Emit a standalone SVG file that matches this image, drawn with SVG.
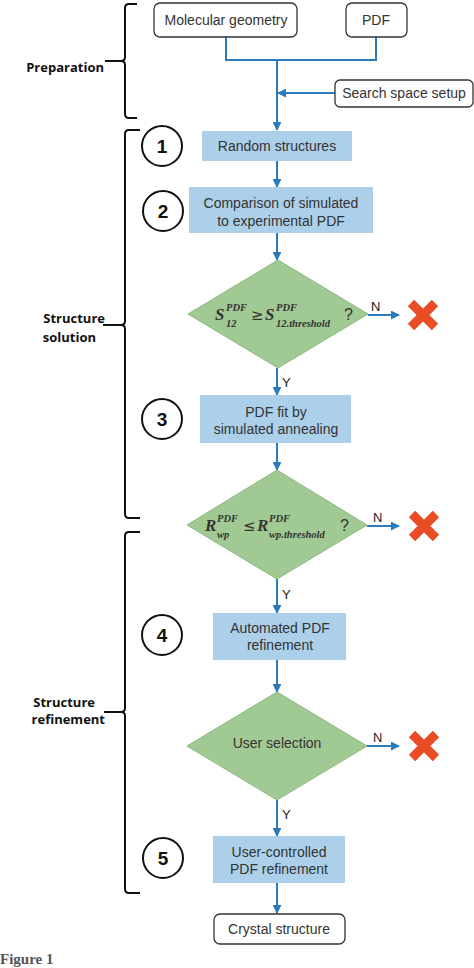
<svg xmlns="http://www.w3.org/2000/svg" width="474" height="968" viewBox="0 0 474 968">
<style>
.term{fill:#fff;stroke:#333;stroke-width:1.3}
.proc{fill:#acd0ea}
.dec{fill:#a1c993;stroke:#8fb880;stroke-width:1}
.t{font-family:"Liberation Sans",Arial,sans-serif;font-size:14px;fill:#333;text-anchor:middle}
.lbl{font-family:"Liberation Sans",Arial,sans-serif;font-size:13px;fill:#222}
.sec{font-family:"Open Sans","Liberation Sans",sans-serif;font-weight:bold;font-size:13px;fill:#111;text-anchor:end}
.num{font-family:"Liberation Sans",Arial,sans-serif;font-weight:bold;font-size:19px;fill:#111;text-anchor:middle}
.circ{fill:#fff;stroke:#111;stroke-width:2}
.m{font-family:"Liberation Serif","Times New Roman",serif;font-style:italic;font-weight:bold;fill:#333}
.op{font-family:"DejaVu Sans",sans-serif;font-style:normal;font-weight:normal}
.con{fill:none;stroke:#2a7bbb;stroke-width:2}
.br{fill:none;stroke:#111;stroke-width:2}
.x{stroke:#ea4c26;stroke-width:9}
</style>
<defs>
<marker id="ah" viewBox="0 0 10 10" refX="9" refY="5" markerWidth="4.5" markerHeight="4.5" orient="auto" markerUnits="strokeWidth">
<path d="M0,0 L10,5 L0,10 z" fill="#2a7bbb"/>
</marker>
</defs>

<g id="brackets">
<path class="br" d="M137,4 H129 Q125,4 125,8 V57 Q125,61 121,61 Q125,61 125,65 V114 Q125,118 129,118 H137"/>
<line class="br" x1="105" y1="61" x2="121" y2="61" stroke-width="1.6"/>
<path class="br" d="M140,130 H129 Q125,130 125,134 V321 Q125,325 121,325 Q125,325 125,329 V514 Q125,518 129,518 H140"/>
<line class="br" x1="103" y1="325" x2="121" y2="325" stroke-width="1.6"/>
<path class="br" d="M140,532 H129 Q125,532 125,536 V708 Q125,712 121,712 Q125,712 125,716 V889 Q125,893 129,893 H140"/>
<line class="br" x1="104" y1="712" x2="121" y2="712" stroke-width="1.6"/>
</g>

<g id="section-labels">
<text class="sec" x="104" y="72">Preparation</text>
<text class="sec" x="105" y="323">Structure</text>
<text class="sec" x="96" y="342">solution</text>
<text class="sec" x="95" y="707">Structure</text>
<text class="sec" x="105" y="724">refinement</text>
</g>

<g id="connectors">
<path class="con" d="M226,37 V60 H376 V37"/>
<line class="con" x1="277" y1="60" x2="277" y2="130" marker-end="url(#ah)"/>
<line class="con" x1="335" y1="93" x2="278" y2="93" marker-end="url(#ah)"/>
<line class="con" x1="277" y1="161" x2="277" y2="187" marker-end="url(#ah)"/>
<line class="con" x1="277" y1="233" x2="277" y2="260" marker-end="url(#ah)"/>
<line class="con" x1="368" y1="315" x2="399" y2="315" marker-end="url(#ah)"/>
<line class="con" x1="277" y1="368" x2="277" y2="395" marker-end="url(#ah)"/>
<line class="con" x1="277" y1="443" x2="277" y2="470" marker-end="url(#ah)"/>
<line class="con" x1="367" y1="526" x2="399" y2="526" marker-end="url(#ah)"/>
<line class="con" x1="277" y1="579" x2="277" y2="613" marker-end="url(#ah)"/>
<line class="con" x1="277" y1="660" x2="277" y2="692" marker-end="url(#ah)"/>
<line class="con" x1="367" y1="746" x2="399" y2="746" marker-end="url(#ah)"/>
<line class="con" x1="277" y1="800" x2="277" y2="836" marker-end="url(#ah)"/>
<line class="con" x1="277" y1="883" x2="277" y2="913" marker-end="url(#ah)"/>
<text class="lbl" x="371" y="311">N</text>
<text class="lbl" x="282" y="387">Y</text>
<text class="lbl" x="373" y="522">N</text>
<text class="lbl" x="282" y="599">Y</text>
<text class="lbl" x="373" y="742">N</text>
<text class="lbl" x="282" y="819">Y</text>
</g>

<g id="molecular-geometry">
<rect class="term" x="154" y="3" width="143" height="34" rx="6"/>
<text class="t" x="226" y="25">Molecular geometry</text>
</g>
<g id="pdf">
<rect class="term" x="346" y="3" width="61" height="34" rx="6"/>
<text class="t" x="376" y="25">PDF</text>
</g>
<g id="search-space">
<rect class="term" x="335" y="80" width="138" height="27" rx="5"/>
<text class="t" x="404" y="98">Search space setup</text>
</g>

<g id="step1">
<circle class="circ" cx="162" cy="146" r="20"/>
<text class="num" x="162" y="153">1</text>
</g>
<g id="random-structures">
<rect class="proc" x="202" y="131" width="150" height="30"/>
<text class="t" x="277" y="151">Random structures</text>
</g>

<g id="step2">
<circle class="circ" cx="163" cy="211" r="20"/>
<text class="num" x="163" y="218">2</text>
</g>
<g id="comparison">
<rect class="proc" x="189" y="187" width="184" height="46"/>
<text class="t" x="281" y="208">Comparison of simulated</text>
<text class="t" x="281" y="226">to experimental PDF</text>
</g>

<g id="decision1">
<polygon class="dec" points="278,260 368,314 278,368 188,314"/>
<text class="m" font-size="17"><tspan x="215" y="320">S</tspan><tspan x="226" y="311" font-size="10.5">PDF</tspan><tspan x="226" y="327" font-size="10.5">12</tspan><tspan class="op" x="251" y="320" font-size="15">≥</tspan><tspan x="265" y="320">S</tspan><tspan x="276" y="311" font-size="10.5">PDF</tspan><tspan x="276" y="327" font-size="10.5">12.threshold</tspan><tspan x="344" y="320" font-style="normal" font-weight="normal" font-family="Liberation Sans, sans-serif" font-size="16">?</tspan></text>
</g>
<g id="reject1"><path class="x" d="M411,303 L435,327 M435,303 L411,327"/></g>

<g id="step3">
<circle class="circ" cx="162" cy="419" r="20"/>
<text class="num" x="162" y="426">3</text>
</g>
<g id="pdf-fit">
<rect class="proc" x="200" y="395" width="151" height="48"/>
<text class="t" x="276" y="417">PDF fit by</text>
<text class="t" x="276" y="434">simulated annealing</text>
</g>

<g id="decision2">
<polygon class="dec" points="277,470 367,525 277,579 187,525"/>
<text class="m" font-size="17"><tspan x="205" y="531">R</tspan><tspan x="217" y="522" font-size="10.5">PDF</tspan><tspan x="217" y="538" font-size="10.5">wp</tspan><tspan class="op" x="243" y="531" font-size="15">≤</tspan><tspan x="257" y="531">R</tspan><tspan x="269" y="522" font-size="10.5">PDF</tspan><tspan x="269" y="538" font-size="10.5">wp.threshold</tspan><tspan x="340" y="531" font-style="normal" font-weight="normal" font-family="Liberation Sans, sans-serif" font-size="16">?</tspan></text>
</g>
<g id="reject2"><path class="x" d="M412,514 L436,538 M436,514 L412,538"/></g>

<g id="step4">
<circle class="circ" cx="162" cy="635" r="20"/>
<text class="num" x="162" y="642">4</text>
</g>
<g id="automated-refinement">
<rect class="proc" x="213" y="613" width="133" height="47"/>
<text class="t" x="280" y="633">Automated PDF</text>
<text class="t" x="280" y="650">refinement</text>
</g>

<g id="decision3">
<polygon class="dec" points="277,692 367,746 277,800 187,746"/>
<text class="t" x="277" y="748">User selection</text>
</g>
<g id="reject3"><path class="x" d="M412,734 L436,758 M436,734 L412,758"/></g>

<g id="step5">
<circle class="circ" cx="163" cy="858" r="20"/>
<text class="num" x="163" y="865">5</text>
</g>
<g id="user-refinement">
<rect class="proc" x="213" y="836" width="132" height="47"/>
<text class="t" x="279" y="857">User-controlled</text>
<text class="t" x="279" y="874">PDF refinement</text>
</g>

<g id="crystal-structure">
<rect class="term" x="214" y="914" width="131" height="30" rx="6"/>
<text class="t" x="279" y="934">Crystal structure</text>
</g>

<text x="0" y="964" font-family="Liberation Serif, serif" font-weight="bold" font-size="15" fill="#555">Figure 1</text>
</svg>
